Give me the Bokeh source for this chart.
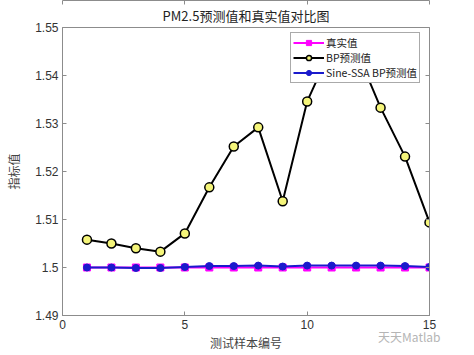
from bokeh.plotting import figure
from bokeh.models import LinearAxis, FixedTicker, Legend, Range1d, Title
from bokeh.embed import file_html
from bokeh.resources import INLINE

samples = list(range(1, 16))
true_vals = [1.5] * 15
bp_vals = [1.5058, 1.5050, 1.5040, 1.5033, 1.5071, 1.5167, 1.5252, 1.5292,
           1.5138, 1.5346, 1.5458, 1.5454, 1.5333, 1.5231, 1.5094]
ssa_vals = [1.5000, 1.5000, 1.4999, 1.4999, 1.5001, 1.5003, 1.5003, 1.5004,
            1.5002, 1.5004, 1.5004, 1.5004, 1.5004, 1.5003, 1.5001]
x_ticks = [0, 5, 10, 15]
y_ticks = [1.49, 1.5, 1.51, 1.52, 1.53, 1.54, 1.55]
y_tick_labels = ["1.49", "1.5", "1.51", "1.52", "1.53", "1.54", "1.55"]

FONT = "Liberation Sans"
CJK = "Noto Sans CJK SC"
AX = "#8c8c8c"
TXT = "#333333"

p = figure(width=474, height=355, output_backend="svg", toolbar_location=None,
           x_range=Range1d(0, 15), y_range=Range1d(1.49, 1.55),
           min_border_left=62, min_border_right=45, min_border_top=27, min_border_bottom=40)
p.title = None
p.add_layout(Title(text="PM2.5预测值和真实值对比图", align="center", text_font=CJK,
                   text_font_size="13px", text_font_style="normal", text_color="#222222",
                   offset=0, standoff=6), "above")

p.xgrid.visible = False
p.ygrid.visible = False
p.outline_line_color = AX
p.background_fill_color = "white"
p.border_fill_color = "white"

def style_axis(ax, show_labels=True):
    ax.axis_line_color = AX
    ax.major_tick_line_color = AX
    ax.major_tick_in = 4
    ax.major_tick_out = 0
    ax.minor_tick_line_color = None
    ax.major_label_text_font = FONT
    ax.major_label_text_font_size = "12px"
    ax.major_label_text_color = TXT if show_labels else None

xa = p.xaxis[0]
xa.ticker = FixedTicker(ticks=x_ticks)
style_axis(xa)
xa.axis_label = "测试样本编号"
xa.axis_label_text_font = CJK
xa.axis_label_text_font_style = "normal"
xa.axis_label_text_font_size = "12px"
xa.axis_label_text_color = "#444444"
xa.axis_label_standoff = 2
xa.major_label_standoff = 4

ya = p.yaxis[0]
ya.ticker = FixedTicker(ticks=y_ticks)
ya.major_label_overrides = {t: l for t, l in zip(y_ticks, y_tick_labels)}
style_axis(ya)
ya.axis_label = "指标值"
ya.axis_label_text_font = CJK
ya.axis_label_text_font_style = "normal"
ya.axis_label_text_font_size = "12px"
ya.axis_label_text_color = "#444444"
ya.axis_label_standoff = 10
ya.major_label_standoff = 4

top = LinearAxis(ticker=FixedTicker(ticks=x_ticks))
style_axis(top, False)
p.add_layout(top, "above")
right = LinearAxis(ticker=FixedTicker(ticks=y_ticks))
style_axis(right, False)
p.add_layout(right, "right")

r1 = p.line(samples, true_vals, line_color="#ff00ff", line_width=2)
r1m = p.scatter(samples, true_vals, marker="square", size=7, fill_color="#ff00ff",
                line_color="#ff00ff")
r2 = p.line(samples, bp_vals, line_color="black", line_width=2)
r2m = p.scatter(samples, bp_vals, marker="circle", size=9, fill_color="#f5f57a",
                line_color="black", line_width=1.5)
r3 = p.line(samples, ssa_vals, line_color="#1a1acc", line_width=2)
r3m = p.scatter(samples, ssa_vals, marker="circle", size=7, fill_color="#1a1acc",
                line_color="#1a1acc")

legend = Legend(items=[("真实值", [r1, r1m]), ("BP预测值", [r2, r2m]),
                       ("Sine-SSA BP预测值", [r3, r3m])],
                location=(228, 232), margin=0, padding=2, spacing=0,
                glyph_width=31, glyph_height=13, label_height=13,
                label_standoff=2,
                label_text_font=CJK, label_text_font_size="10.5px",
                label_text_color="#222222",
                border_line_color="#555555", border_line_width=1,
                background_fill_alpha=1)
p.add_layout(legend, "center")

try:
    wm = Title(text="天天Matlab", align="right", vertical_align="top",
               text_font=CJK, text_font_size="12px", text_font_style="normal",
               text_color="#b5b5b5")
    wm.offset = -11
    wm.standoff = -52
    p.add_layout(wm, "below")
except Exception:
    pass

html = file_html(p, INLINE)
open("out.html", "w").write(html)
